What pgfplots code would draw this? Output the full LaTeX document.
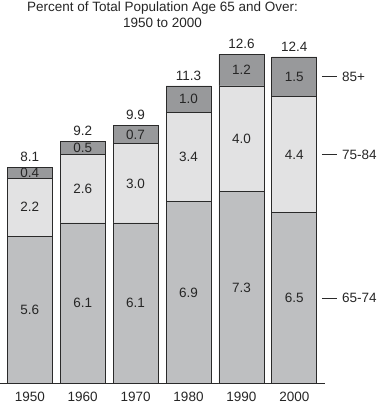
\documentclass[border=0pt]{standalone}
\usepackage{fontspec}
\setmainfont{Liberation Sans}
\usepackage{pgfplots}
\pgfplotsset{compat=1.18}
\usepackage{pgfplotstable}
\definecolor{cA}{HTML}{BEBFC1}
\definecolor{cB}{HTML}{E2E2E3}
\definecolor{cC}{HTML}{98999B}
\definecolor{edge}{HTML}{2A2A2A}
\definecolor{txt}{HTML}{262626}

\pgfplotstableread{
x a b c
0 5.6 2.2 0.4
1 6.1 2.6 0.5
2 6.1 3.0 0.7
3 6.9 3.4 1.0
4 7.3 4.0 1.2
5 6.5 4.4 1.5
}\bars

\pgfplotstableread{
x y lab
0 2.8 5.6
0 6.7 2.2
0 8.0 0.4
1 3.05 6.1
1 7.4 2.6
1 8.95 0.5
2 3.05 6.1
2 7.6 3.0
2 9.45 0.7
3 3.45 6.9
3 8.6 3.4
3 10.8 1.0
4 3.65 7.3
4 9.3 4.0
4 11.9 1.2
5 3.25 6.5
5 8.7 4.4
5 11.65 1.5
}\seglabels

\pgfplotstableread{
x y lab
0 8.2 8.1
1 9.2 9.2
2 9.8 9.9
3 11.3 11.3
4 12.5 12.6
5 12.4 12.4
}\totals

\pgfplotstableread{
x y lab
5.9 3.25 65-74
5.9 8.7 75-84
5.9 11.65 85+
}\agelabels

\newcommand{\chartfont}{\fontsize{13.5}{16}\selectfont}

\pgfplotsset{
  common/.style={
    scale only axis, width=325pt, height=329.4pt,
    xmin=-0.563, xmax=5.58, ymin=0, ymax=12.5,
    clip=false,
  }
}

\begin{document}
\chartfont
\begin{tikzpicture}
\path[use as bounding box] (0pt,-19.3pt) rectangle (377pt,383.7pt);
\begin{axis}[common,
    ybar stacked, bar width=45pt,
    axis x line*=bottom, axis y line=none,
    x axis line style={edge, line width=0.9pt, -},
    xtick={0,1,2,3,4,5},
    xticklabels={1950,1960,1970,1980,1990,2000},
    major tick length=0pt,
    xticklabel style={font=\chartfont, text=txt, yshift=-3.5pt},
    every axis plot/.append style={draw=edge, line width=0.8pt},
  ]
  \addplot[fill=cA] table[x=x, y=a] {\bars};
  \addplot[fill=cB] table[x=x, y=b] {\bars};
  \addplot[fill=cC] table[x=x, y=c] {\bars};
\end{axis}
\begin{axis}[common, hide axis]
  \addplot[only marks, mark=none, nodes near coords, point meta=explicit symbolic,
    nodes near coords style={anchor=center, font=\chartfont, text=txt}]
    table[x=x, y=y, meta=lab] {\seglabels};
  \addplot[only marks, mark=none, nodes near coords, point meta=explicit symbolic,
    nodes near coords style={anchor=south, yshift=1pt, font=\chartfont, text=txt}]
    table[x=x, y=y, meta=lab] {\totals};
  \addplot[only marks, mark=none, nodes near coords, point meta=explicit symbolic,
    nodes near coords style={anchor=west, inner sep=0pt, font=\chartfont, text=txt}]
    table[x=x, y=y, meta=lab] {\agelabels};
  \addplot[edge, line width=0.7pt] coordinates {(5.52,3.25) (5.81,3.25)};
  \addplot[edge, line width=0.7pt] coordinates {(5.52,8.7) (5.81,8.7)};
  \addplot[edge, line width=0.7pt] coordinates {(5.52,11.65) (5.81,11.65)};
\end{axis}
\node[anchor=north, align=center, inner sep=0pt, text=txt,
  font=\fontsize{13.5}{16}\selectfont] at (162.5pt,382pt)
  {Percent of Total Population Age 65 and Over:\\1950 to 2000};
\end{tikzpicture}
\end{document}
